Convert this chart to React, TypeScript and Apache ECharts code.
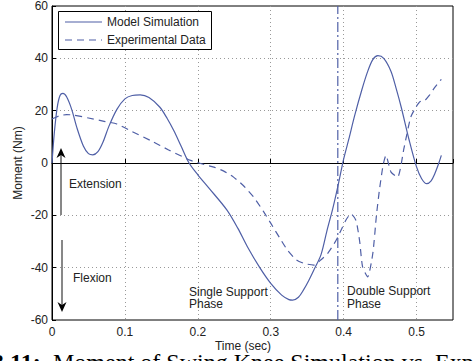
import React, { useEffect, useRef } from "react";
import * as echarts from "echarts";

// Model simulation (solid)
const timeSim = [0, 0.003, 0.007, 0.011, 0.015, 0.02, 0.027, 0.034, 0.043, 0.05, 0.056, 0.063, 0.07, 0.078, 0.089, 0.1, 0.11, 0.121, 0.133, 0.148, 0.158, 0.167, 0.177, 0.188, 0.2, 0.215, 0.24, 0.255, 0.268, 0.285, 0.3, 0.315, 0.325, 0.33, 0.338, 0.345, 0.352, 0.359, 0.369, 0.377, 0.385, 0.392, 0.4, 0.407, 0.415, 0.425, 0.433, 0.44, 0.447, 0.455, 0.465, 0.472, 0.479, 0.49, 0.5, 0.507, 0.514, 0.52, 0.525, 0.53, 0.534];
const momentSim = [0, 11, 21, 25.8, 26.6, 25.3, 20.5, 13.6, 6.5, 3.6, 3.1, 4.3, 8, 14, 20.5, 24.5, 25.8, 26, 25, 21.3, 17, 12.4, 6.5, 0, -4.5, -9.5, -18, -25, -32, -40, -46, -50.5, -52.2, -52.4, -51.3, -48.5, -45, -41, -35, -26, -17.5, -9, 1.5, 9, 18, 28, 35, 39.5, 41, 40, 35, 28.5, 21.3, 8.6, -1.5, -6, -7.9, -6.8, -4.1, -0.5, 2.9];

// Experimental data (dashed)
const timeExp = [0, 0.01, 0.02, 0.03, 0.05, 0.07, 0.089, 0.11, 0.135, 0.16, 0.19, 0.205, 0.222, 0.235, 0.249, 0.262, 0.2765, 0.29, 0.3, 0.312, 0.323, 0.335, 0.346, 0.359, 0.369, 0.378, 0.387, 0.392, 0.403, 0.41, 0.417, 0.422, 0.426, 0.433, 0.44, 0.445, 0.449, 0.454, 0.458, 0.465, 0.474, 0.483, 0.492, 0.499, 0.505, 0.511, 0.518, 0.525, 0.534];
const momentExp = [16.8, 18, 18.5, 18.3, 17.2, 16, 14.9, 12, 8.6, 5, 1, -0.3, -1.6, -3, -5.4, -8.5, -13, -18.5, -23, -28.5, -33.3, -37, -38.4, -39, -37, -34.6, -30.8, -28.3, -21.9, -19.4, -22, -30, -39.7, -43.5, -34.6, -20, -10.5, -1, 2.9, -3.5, -5.4, 6, 17.5, 21.3, 23.5, 23.8, 26, 28.9, 32];

const xTicks = [0, 0.1, 0.2, 0.3, 0.4, 0.5];
const yTicks = [-60, -40, -20, 0, 20, 40, 60];
const phaseBoundary = 0.392;
const seriesNames = ["Model Simulation", "Experimental Data"];

export default function App() {
  const ref = useRef<HTMLDivElement>(null);
  useEffect(() => {
    document.body.style.margin = "0";
    const chart = echarts.init(ref.current!, null, { renderer: "svg" });
    const blue = "#4f5fa6";
    const ink = "#222";
    const font = "Liberation Sans, Arial, sans-serif";
    const serif = "Liberation Serif, Times New Roman, serif";
    const zip = (xs: number[], ys: number[]) => xs.map((x, i) => [x, ys[i]]);
    const txt = (text: string, x: number, y: number, extra: any = {}) => ({
      type: "text",
      x,
      y,
      z: 102,
      style: { text, fontSize: 12, fontFamily: font, fill: ink, align: "left", verticalAlign: "middle", ...extra },
    });
    chart.setOption({
      animation: false,
      backgroundColor: "#fff",
      grid: { left: 52, top: 5, right: 21, bottom: 41, show: true, borderColor: "#000", borderWidth: 1 },
      xAxis: {
        type: "value",
        min: 0,
        max: 0.55,
        interval: 0.1,
        axisLine: { lineStyle: { color: "#000", width: 1 } },
        axisTick: { inside: true, length: 4, lineStyle: { color: "#000" } },
        axisLabel: {
          color: ink,
          fontSize: 12,
          fontFamily: font,
          margin: 6,
          formatter: (v: number) => (xTicks.some((t) => Math.abs(t - v) < 1e-9) ? String(+v.toFixed(1)) : ""),
        },
        splitLine: { show: true, showMinLine: false, showMaxLine: false, lineStyle: { type: [1, 3], color: "#999" } },
      },
      yAxis: {
        type: "value",
        min: yTicks[0],
        max: yTicks[yTicks.length - 1],
        interval: 20,
        axisLine: { show: true, lineStyle: { color: "#000", width: 1 } },
        axisTick: { show: true, inside: true, length: 4, lineStyle: { color: "#000" } },
        axisLabel: { color: ink, fontSize: 12, fontFamily: font, margin: 4 },
        splitLine: { show: true, showMinLine: false, showMaxLine: false, lineStyle: { type: [1, 3], color: "#999" } },
      },
      series: [
        {
          name: seriesNames[0],
          type: "line",
          data: zip(timeSim, momentSim),
          showSymbol: false,
          smooth: 0.3,
          lineStyle: { color: blue, width: 1.2 },
          z: 5,
        },
        {
          name: seriesNames[1],
          type: "line",
          data: zip(timeExp, momentExp),
          showSymbol: false,
          smooth: 0.2,
          lineStyle: { color: blue, width: 1.2, type: [7, 5] },
          z: 4,
        },
        {
          name: "phase",
          type: "line",
          data: [[phaseBoundary, yTicks[0]], [phaseBoundary, yTicks[yTicks.length - 1]]],
          showSymbol: false,
          lineStyle: { color: blue, width: 1.2, type: [10, 3, 2, 3] },
          z: 3,
        },
      ],
      graphic: [
        { type: "rect", z: 100, shape: { x: 58.5, y: 11.5, width: 153, height: 38 }, style: { fill: "#fff", stroke: "#000", lineWidth: 1 } },
        { type: "line", z: 101, shape: { x1: 65, y1: 22, x2: 102, y2: 22 }, style: { stroke: blue, lineWidth: 1.2 } },
        { type: "line", z: 101, shape: { x1: 65, y1: 40, x2: 102, y2: 40 }, style: { stroke: blue, lineWidth: 1.2, lineDash: [7, 5] } },
        txt(seriesNames[0], 107, 22),
        txt(seriesNames[1], 107, 40),
        // arrows
        { type: "line", z: 101, shape: { x1: 61, y1: 215, x2: 61, y2: 153 }, style: { stroke: "#111", lineWidth: 1 } },
        { type: "polygon", z: 101, shape: { points: [[61, 148], [56.5, 158], [61, 155], [65.5, 158]] }, style: { fill: "#000" } },
        { type: "line", z: 101, shape: { x1: 62, y1: 240, x2: 62, y2: 305 }, style: { stroke: "#111", lineWidth: 1 } },
        { type: "polygon", z: 101, shape: { points: [[62, 312], [57.5, 302], [62, 305], [66.5, 302]] }, style: { fill: "#000" } },
        txt("Extension", 69, 184),
        txt("Flexion", 73, 278),
        txt("Single Support", 189, 291.5),
        txt("Phase", 189, 304.3),
        txt("Double Support", 347, 291),
        txt("Phase", 347, 304.3),
        txt("Time (sec)", 243, 345.5, { align: "center" }),
        { type: "text", x: 18, y: 163, rotation: Math.PI / 2, z: 102, style: { text: "Moment (Nm)", fontSize: 12, fontFamily: font, fill: ink, align: "center", verticalAlign: "middle" } },
        // caption (cut off by the bottom edge, as in the reference)
        { type: "text", x: -8, y: 350, z: 102, style: { text: "3.11:", fontSize: 24, fontWeight: "bold", fontFamily: serif, fill: "#000", align: "left", verticalAlign: "top" } },
        { type: "text", x: 53, y: 350, z: 102, style: { text: "Moment of Swing Knee Simulation vs. Experimental Data", fontSize: 24, fontFamily: serif, fill: "#000", align: "left", verticalAlign: "top" } },
      ],
    });
    return () => chart.dispose();
  }, []);
  return <div ref={ref} style={{ position: "fixed", left: 0, top: 0, width: 474, height: 361 }} />;
}
